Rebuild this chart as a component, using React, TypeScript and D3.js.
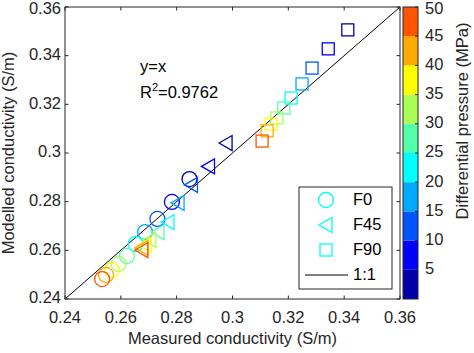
import * as d3 from "d3";

const TICKS = [0.24, 0.26, 0.28, 0.3, 0.32, 0.34, 0.36];
const TICK_LABELS = ["0.24", "0.26", "0.28", "0.3", "0.32", "0.34", "0.36"];

// pressure levels (MPa), one point per level in each series
const PRESSURES = [5, 10, 15, 20, 25, 30, 35, 40, 45, 50];
const CBAR_TICKS = [5, 10, 15, 20, 25, 30, 35, 40, 45, 50];
// MATLAB jet(10)
const JET10 = ["#0000aa", "#0000ff", "#0055ff", "#00aaff", "#00ffff", "#55ffaa", "#aaff55", "#ffff00", "#ffaa00", "#ff5500"];

// F0 (circles)
const F0_MEAS = [0.2846, 0.2783, 0.2731, 0.2687, 0.2653, 0.2622, 0.2592, 0.2568, 0.2547, 0.2533];
const F0_MOD = [0.2893, 0.2799, 0.2729, 0.2675, 0.2626, 0.2577, 0.2544, 0.2519, 0.2499, 0.2482];
// F45 (triangles)
const F45_MEAS = [0.2977, 0.2914, 0.2853, 0.2805, 0.2769, 0.2733, 0.2704, 0.2687, 0.2676, 0.2675];
const F45_MOD = [0.3041, 0.2945, 0.2869, 0.2795, 0.2716, 0.2675, 0.2643, 0.2622, 0.261, 0.2601];
// F90 (squares)
const F90_MEAS = [0.3413, 0.3343, 0.3285, 0.3249, 0.321, 0.3184, 0.3159, 0.3138, 0.3124, 0.3106];
const F90_MOD = [0.3506, 0.3428, 0.3349, 0.3284, 0.3226, 0.3185, 0.3144, 0.3119, 0.3091, 0.3049];

const W = 474;
const H = 353;
const AX = "#262626";
const FONT = "'Liberation Sans', Arial, sans-serif";
const FS = 16.5;

function marker(kind: string, cx: number, cy: number, color: string, key: string) {
  if (kind === "o") {
    return <circle key={key} cx={cx} cy={cy} r={7.5} fill="none" stroke={color} strokeWidth={1.3} />;
  }
  if (kind === "<") {
    const p = `M${cx - 7},${cy} L${cx + 6},${cy - 7.5} L${cx + 6},${cy + 7.5} Z`;
    return <path key={key} d={p} fill="none" stroke={color} strokeWidth={1.3} />;
  }
  return <rect key={key} x={cx - 6} y={cy - 6} width={12} height={12} fill="none" stroke={color} strokeWidth={1.3} />;
}

export default function App() {
  const left = 65, right = 400, top = 7, bottom = 299;
  const x = d3.scaleLinear().domain([0.24, 0.36]).range([left, right]);
  const y = d3.scaleLinear().domain([0.24, 0.36]).range([bottom, top]);
  const color = d3.scaleOrdinal<number, string>().domain(PRESSURES).range(JET10);

  const cbX = 403, cbW = 15;
  const cy = d3.scaleLinear().domain([0, 50]).range([bottom, top]);

  const series = [
    { kind: "o", meas: F0_MEAS, mod: F0_MOD, name: "F0" },
    { kind: "<", meas: F45_MEAS, mod: F45_MOD, name: "F45" },
    { kind: "s", meas: F90_MEAS, mod: F90_MOD, name: "F90" },
  ];

  return (
    <svg width={W} height={H} style={{ position: "absolute", left: 0, top: 0, background: "#fff" }} fontFamily={FONT}>
      <rect x={0} y={0} width={W} height={H} fill="#fff" />
      {/* 1:1 line */}
      <line x1={x(0.24)} y1={y(0.24)} x2={x(0.36)} y2={y(0.36)} stroke="#000" strokeWidth={1} />

      {series.map((s) =>
        s.meas.map((m, i) => marker(s.kind, x(m), y(s.mod[i]), color(PRESSURES[i]), `${s.name}-${i}`))
      )}

      {/* axes box + ticks */}
      <rect x={left} y={top} width={right - left} height={bottom - top} fill="none" stroke={AX} strokeWidth={1} />
      {TICKS.map((t, i) => (
        <g key={`t${i}`}>
          <line x1={x(t)} x2={x(t)} y1={bottom} y2={bottom - 3.5} stroke={AX} />
          <line x1={x(t)} x2={x(t)} y1={top} y2={top + 3.5} stroke={AX} />
          <line x1={left} x2={left + 3.5} y1={y(t)} y2={y(t)} stroke={AX} />
          <line x1={right} x2={right - 3.5} y1={y(t)} y2={y(t)} stroke={AX} />
          <text x={x(t)} y={319} fontSize={FS} fill={AX} textAnchor="middle" dominantBaseline="middle">
            {TICK_LABELS[i]}
          </text>
          <text x={left - 4} y={Math.max(y(t), 9.5)} fontSize={FS} fill={AX} textAnchor="end" dominantBaseline="middle">
            {TICK_LABELS[i]}
          </text>
        </g>
      ))}

      <text x={(left + right) / 2} y={340} fontSize={FS} fill={AX} textAnchor="middle" dominantBaseline="middle">
        Measured conductivity (S/m)
      </text>
      <text transform={`translate(10,${(top + bottom) / 2}) rotate(-90)`} fontSize={FS} fill={AX} textAnchor="middle" dominantBaseline="middle">
        Modelled conductivity (S/m)
      </text>

      <text x={140} y={72} fontSize={FS} fill="#000">y=x</text>
      <text x={140} y={98} fontSize={FS} fill="#000">
        R<tspan dy={-7} fontSize={11}>2</tspan><tspan dy={7}>=0.9762</tspan>
      </text>

      {/* legend */}
      <rect x={299} y={187} width={93} height={102} fill="#fff" stroke={AX} strokeWidth={1} />
      {series.map((s, i) => (
        <g key={`lg${i}`}>
          {marker(s.kind, 326, 200 + i * 25, "#00ffff", `lgm${i}`)}
          <text x={353} y={201 + i * 25} fontSize={FS} fill="#000" dominantBaseline="middle">{s.name}</text>
        </g>
      ))}
      <line x1={305} x2={348} y1={275} y2={275} stroke="#000" />
      <text x={353} y={276} fontSize={FS} fill="#000" dominantBaseline="middle">1:1</text>

      {/* colorbar */}
      {PRESSURES.map((p, i) => (
        <rect key={`cb${i}`} x={cbX} y={cy(p)} width={cbW} height={cy(p - 5) - cy(p)} fill={JET10[i]} />
      ))}
      <rect x={cbX} y={top} width={cbW} height={bottom - top} fill="none" stroke={AX} strokeWidth={1} />
      {CBAR_TICKS.map((t) => (
        <g key={`cbt${t}`}>
          <line x1={cbX + cbW} x2={cbX + cbW - 3} y1={cy(t)} y2={cy(t)} stroke={AX} />
          <text x={cbX + cbW + 7} y={Math.max(cy(t), 9.5)} fontSize={FS} fill={AX} dominantBaseline="middle">{t}</text>
        </g>
      ))}
      <text transform={`translate(464,121) rotate(-90)`} fontSize={FS} fill={AX} textAnchor="middle" dominantBaseline="middle">
        Differential pressure (MPa)
      </text>
    </svg>
  );
}
